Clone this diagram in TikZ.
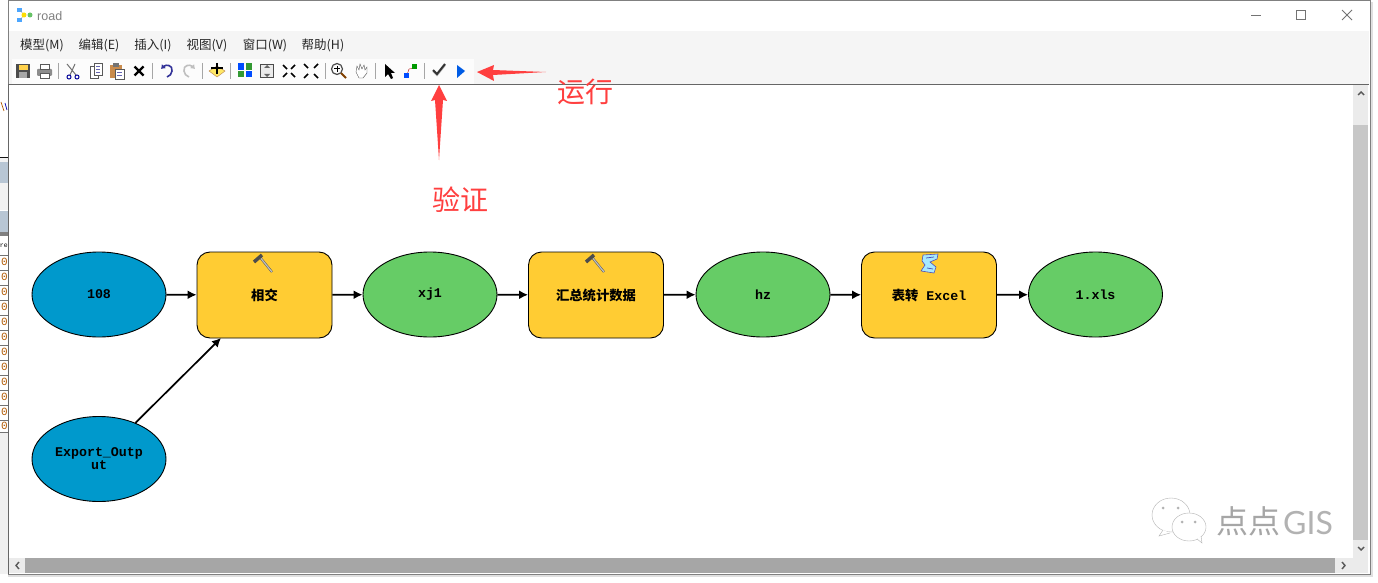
\documentclass[tikz,border=0pt]{standalone}
\usepackage{fontspec}
\setmainfont{Liberation Sans}
\newfontfamily\cjkfont{Noto Sans CJK SC}
\newfontfamily\modelfont{Liberation Mono}
\newfontfamily\markfont{Lato}
\usepackage{tikz}
\usetikzlibrary{shapes.geometric}
\usetikzlibrary{arrows.meta}
\definecolor{inputblue}{HTML}{0099CC}
\definecolor{outputgreen}{HTML}{66CC66}
\definecolor{toolyellow}{HTML}{FFCC33}
\definecolor{notered}{HTML}{FF3F3F}
\definecolor{band}{HTML}{F5F5F5}
\definecolor{sideblue}{HTML}{B8C6D4}
\definecolor{topbrown}{HTML}{B5A68C}
\tikzset{
  inputdata/.style={ellipse,draw=black,line width=.9pt,fill=inputblue,minimum width=134pt,minimum height=85pt,inner sep=0pt,font=\modelfont\bfseries\fontsize{13.300}{13}\selectfont,align=center},
  outputdata/.style={inputdata,fill=outputgreen},
  tool/.style={rectangle,rounded corners=13pt,draw=black,line width=.9pt,fill=toolyellow,minimum width=135pt,minimum height=86pt,inner sep=0pt,font=\modelfont\bfseries\fontsize{13.300}{13}\selectfont},
  flow/.style={-{Latex[length=9pt,width=9pt]},black,line width=1.7pt},
  menuitem/.style={font=\cjkfont\fontsize{12.500}{12}\selectfont,text=black!85,inner sep=0pt},
  redarrow/.style={fill=notered,draw=none},
  redlabel/.style={font=\cjkfont\fontsize{28}{28}\selectfont,text=notered,inner sep=0pt},
  sepbar/.style={draw=black!35,line width=.8pt},
  pageicon/.style={fill=white,draw=black!65,line width=.8pt},
}
\begin{document}
\begin{tikzpicture}[x=1pt,y=-1pt]
\useasboundingbox (0,0) rectangle (1378,583);
\fill[white] (0,0) rectangle (1378,583);

\fill[topbrown] (50,0) rectangle (1240,1.2);
\draw[orange!70!black,line width=.7pt] (1,102) -- (4,111);
\draw[blue!70!black,line width=.7pt] (5,103) -- (7,110);
\fill[black!93] (0,157) rectangle (9,158);
\fill[black!5] (0,158) rectangle (9,210);
\fill[sideblue] (0,162) rectangle (9,183);
\fill[sideblue] (0,211) rectangle (9,232);
\fill[black!50] (0,232) rectangle (9,236);
\fill[black!6] (0,432) rectangle (9,574);
\foreach \y in {255,270,285,300,315,330,345,360,375,390,405,420,432}
  \draw[black!55] (0,\y) -- (8,\y);
\node[font=\modelfont\fontsize{6.500}{7}\selectfont,anchor=east,inner sep=0pt] (sidehead) at (8,246) {re};
\foreach \y in {262,277,292,307,322,337,352,367,382,397,412,426}
  \node[font=\modelfont\fontsize{11}{11}\selectfont,text=orange!70!black,anchor=east,inner sep=0pt] at (8,\y) {0};

\fill[black!12] (1370,2) rectangle (1373,576);
\fill[black!12] (8,574) rectangle (1373,577);
\draw[black!50] (8,0) rectangle (1370,574);
\fill[band] (9,31) rectangle (1369,84);
\fill[black!1] (12,59) rectangle (474,84);
\draw[black!60,line width=1pt] (9,84.5) -- (1369,84.5);
\draw[black!60,line width=1pt] (8.5,84) -- (8.5,574);

\fill[black!8] (1353,85) rectangle (1368,558);
\fill[black!22] (1353,125) rectangle (1368,540);
\fill[black!8] (9,558) rectangle (1368,573);
\fill[black!35] (25,558) rectangle (1335,573);
\draw[black!65,line width=1.4pt] (1358,95) -- (1361,92) -- (1364,95);
\draw[black!65,line width=1.4pt] (1358,547) -- (1361,550) -- (1364,547);
\draw[black!65,line width=1.4pt] (19,562) -- (16,565.5) -- (19,569);
\draw[black!65,line width=1.4pt] (1342,562) -- (1345,565.5) -- (1342,569);

\fill[blue!50!cyan!70] (17,8) rectangle (22,12);
\fill[blue!50!cyan!70] (17,18) rectangle (22,22);
\draw[black!40] (20,10) -- (24,15) -- (20,20);
\fill[yellow!80!orange] (24,15) circle (2.5);
\fill[green!60!black!60] (30,15) circle (2.5);
\node[font=\fontsize{12.500}{12}\selectfont,text=black!50,anchor=west,inner sep=0pt] (title) at (37,16) {road};
\draw[black!55,line width=.8pt] (1251,15) -- (1261,15);
\draw[black!55,line width=.8pt] (1296.5,10.5) rectangle (1305.5,19.5);
\draw[black!55,line width=.8pt] (1342,10) -- (1352,20) (1352,10) -- (1342,20);

\node[menuitem] (m1) at (42,45) {模型(M)};
\node[menuitem] (m2) at (99,45) {编辑(E)};
\node[menuitem] (m3) at (153,45) {插入(I)};
\node[menuitem] (m4) at (207,45) {视图(V)};
\node[menuitem] (m5) at (265,45) {窗口(W)};
\node[menuitem] (m6) at (323,45) {帮助(H)};

\foreach \x in {58,152,202,230,325,375,424}
  \draw[sepbar] (\x,63) -- (\x,79);

\fill[black!70] (16,64) rectangle (30,78);
\fill[orange!50!yellow!70] (18.500,65) rectangle (27.500,70);
\fill[black!35] (19,72) rectangle (27,78);
\fill[black!45,rounded corners=1pt] (37,69) rectangle (52,76);
\fill[pageicon] (40,64) rectangle (49,69);
\fill[pageicon] (40,73) rectangle (49,78);
\draw[black!55,line width=1pt] (67,64) -- (76,75) (75,64) -- (70,75);
\draw[blue!60!black,line width=1pt] (69,77) circle (2) (77,77) circle (2);
\fill[pageicon] (90,66) rectangle (98,78);
\fill[pageicon] (94,63) rectangle (102,75);
\draw[blue!50!black!60] (96,66.500) -- (100,66.500) (96,69.500) -- (100,69.500) (96,72.500) -- (100,72.500);
\fill[orange!70!black!70] (110,65) rectangle (122,78);
\fill[black!55] (113,63.500) rectangle (119,67);
\fill[pageicon] (115,69) rectangle (124,79);
\draw[blue!50!black!60] (117,72) -- (122,72) (117,75) -- (122,75);
\draw[black,line width=2.2pt] (134.5,66.5) -- (143.5,75.5) (143.5,66.5) -- (134.5,75.5);
\draw[blue!50!black!80,line width=1.6pt,{Latex[length=4pt,width=6pt]}-] (161,69) .. controls (166,64) and (173,65) .. (172,71) .. controls (171.5,74) and (170,76) .. (167,77);
\draw[black!25,line width=1.6pt,{Latex[length=4pt,width=6pt]}-] (195,69) .. controls (190,64) and (183,65) .. (184,71) .. controls (184.5,74) and (186,76) .. (189,77);
\fill[orange!30!yellow!60,draw=orange!60!black!70] (209,71) -- (217,66) -- (225,71) -- (217,77) -- cycle;
\draw[black,line width=2pt] (217,63) -- (217,74) (211,68.5) -- (223,68.5);
\fill[blue!70!cyan] (238,63.5) rectangle (244,70);
\fill[green!50!black!80] (246,63.5) rectangle (252,70);
\fill[green!50!black!80] (238,71.5) rectangle (244,77.5);
\fill[blue!70!cyan] (246,71.5) rectangle (252,77.5);
\draw[black!70,fill=black!8] (260.5,64.5) rectangle (273.5,77.5);
\fill[black!60] (267,65) -- (270,68) -- (264,68) -- cycle (267,77) -- (270,74) -- (264,74) -- cycle;
\foreach \sx/\sy in {-1/-1,1/-1,-1/1,1/1}{
  \draw[black,line width=1.5pt] (289+\sx*2,71+\sy*2) -- (289+\sx*6,71+\sy*6);
  \draw[black,line width=1.5pt] (311+\sx*3,71+\sy*3) -- (311+\sx*7,71+\sy*7);
}
\draw[black!70,line width=1.2pt] (337,69) circle (5.5);
\draw[orange!50!black,line width=2pt] (341,73) -- (346,78);
\draw[black,line width=1pt] (334,69) -- (340,69) (337,66) -- (337,72);
\draw[black!70,fill=white] (356,72) -- (357,66) -- (359,70) -- (360,64) -- (362,69) -- (364,65) -- (365,70) -- (367,67) -- (367,73) -- (363,78) -- (359,78) -- cycle;
\fill[black] (385,64) -- (385,77) -- (388,74) -- (391,79) -- (393,78) -- (391,73) -- (395,73) -- cycle;
\draw[red!70!black] (407,75) -- (409,69) -- (415,68);
\fill[blue!70!cyan] (404,73) rectangle (409,78);
\fill[green!60!black] (412,64) rectangle (417,69);
\draw[black!30,line width=2pt] (433,71) -- (437,75) -- (445,65);
\draw[black!80,line width=2pt] (433,70) -- (437,74) -- (445,64);
\fill[blue!60!cyan!90!black] (457,65) -- (465,71) -- (457,78) -- cycle;

\coordinate (runtip) at (477,72);
\coordinate (runtail) at (546,72);
\coordinate (checktip) at (439,85);
\coordinate (checktail) at (439,160);
\fill[redarrow] (runtip) -- (494,65) -- (493,70) -- (runtail) -- (493,75) -- (494,81) -- cycle;
\fill[redarrow] (checktip) -- (447,101) -- (443,100) -- (checktail) -- (435,100) -- (431,101) -- cycle;
\node[redlabel] (runlabel) at (585,92) {运行};
\node[redlabel] (checklabel) at (460,200) {验证};

\node[inputdata] (r108) at (99,294.5) {108};
\node[tool] (intersect) at (264.5,295) {{\cjkfont\bfseries 相交}};
\node[outputdata] (xj) at (430,294.5) {xj1};
\node[tool] (stats) at (596,295) {{\cjkfont\bfseries 汇总统计数据}};
\node[outputdata] (hz) at (763,294.5) {hz};
\node[tool] (excel) at (929,295) {{\cjkfont\bfseries 表转} Excel};
\node[outputdata] (xls) at (1095.5,294.5) {1.xls};
\node[inputdata] (export) at (99,459) {Export\_Outp\\ut};
\coordinate (intersectin) at (221,338);

\draw[flow] (r108) -- (intersect);
\draw[flow] (intersect) -- (xj);
\draw[flow] (xj) -- (stats);
\draw[flow] (stats) -- (hz);
\draw[flow] (hz) -- (excel);
\draw[flow] (excel) -- (xls);
\draw[flow] (export) -- (intersectin);

\foreach \x in {264,596}{
  \draw[black!65,line width=2.2pt] (\x-5,256) -- (\x+8,272);
  \draw[black!25,line width=1.2pt] (\x-5,256) -- (\x+8,272);
  \draw[black!70,line width=3.5pt] (\x-10,262) -- (\x-2,255);
}
\fill[blue!25!cyan!35,draw=blue!60!black!70,line width=.6pt] (923,255) -- (938,254) -- (937,259) -- (930,262) -- (936,267) -- (934,273) -- (921,271) -- (925,265) -- (922,261) -- cycle;
\draw[blue!60!black!70,line width=.7pt] (926,258) -- (934,257) (927,268) -- (933,269);

\draw[black!30,fill=white] (1171,515) ellipse (19 and 17);
\draw[black!30,fill=white] (1163,530) -- (1159,536) -- (1170,533);
\draw[black!30,fill=white] (1189,527) ellipse (17 and 14);
\draw[black!30,fill=white] (1197,539) -- (1202,543) -- (1201,536);
\fill[black!30] (1163,508) circle (1.5) (1178,508) circle (1.5) (1182,522) circle (1.5) (1195,522) circle (1.5);
\node[font=\cjkfont\fontsize{32}{32}\selectfont,text=black!35,anchor=west,inner sep=0pt] (wmark) at (1216,521) {点点};
\node[font=\markfont\fontsize{32}{32}\selectfont,text=black!30,anchor=west,inner sep=0pt] (wgis) at (1283,523) {GIS};
\end{tikzpicture}
\end{document}
